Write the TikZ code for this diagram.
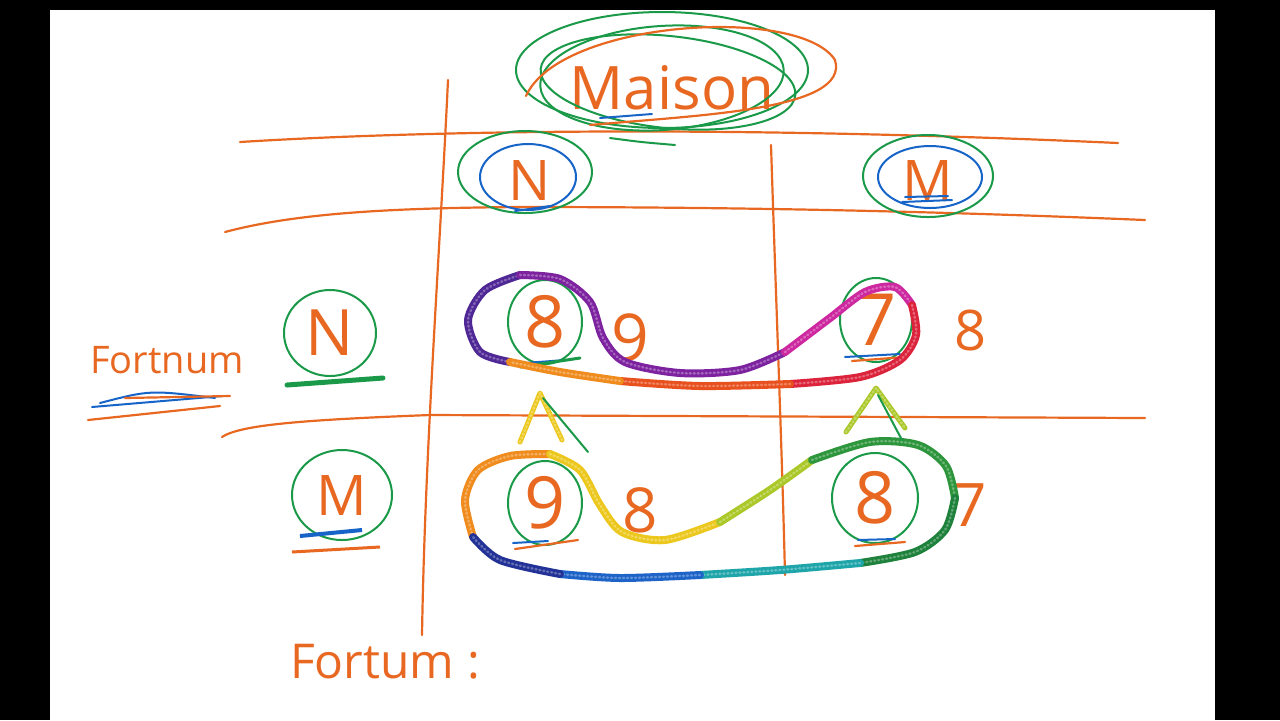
\documentclass[tikz,border=0pt]{standalone}
\usepackage{fontspec}
\setmainfont{Open Sans}
\usepackage{tikz}
\usetikzlibrary{shapes.geometric}
\definecolor{pen}{RGB}{232,104,34}
\definecolor{grn}{RGB}{26,154,72}
\definecolor{blu}{RGB}{22,100,200}
\definecolor{rIndigo}{RGB}{80,40,150}
\definecolor{rPurple}{RGB}{125,35,160}
\definecolor{rMagenta}{RGB}{205,40,160}
\definecolor{rRed}{RGB}{220,35,60}
\definecolor{rOrRed}{RGB}{232,80,30}
\definecolor{rOrange}{RGB}{240,140,30}
\definecolor{rYellow}{RGB}{236,200,30}
\definecolor{rLime}{RGB}{170,200,40}
\definecolor{rGreen}{RGB}{45,150,60}
\definecolor{rDkGreen}{RGB}{30,130,60}
\definecolor{rTeal}{RGB}{30,165,170}
\definecolor{rBlue}{RGB}{30,100,200}
\definecolor{rNavy}{RGB}{35,50,150}

\begin{document}
\begin{tikzpicture}[x=0.5pt, y=-0.5pt,
    ol/.style={draw=pen, line width=1.1pt, line cap=round},
    gl/.style={draw=grn, line width=1pt, line cap=round},
    bl/.style={draw=blu, line width=1pt, line cap=round},
    txt/.style={text=pen, inner sep=0pt, font=\fontsize{#1}{#1}\selectfont},
    cell/.style={txt=36, ellipse, gl, minimum width=37pt, minimum height=42pt},
    glit/.style={draw=#1, line width=4pt, line cap=round, line join=round,
      postaction={draw=white, line width=1.2pt, dash pattern=on 0.5pt off 1.5pt, opacity=0.3}}]
  % board
  \fill[black] (0,0) rectangle (1280,720);
  \fill[white] (50,10) rectangle (1215,720);

  % grid
  \draw[ol] (240,142) .. controls (400,132) and (700,124) .. (1118,143);
  \draw[ol] (225,232) .. controls (300,212) and (400,208) .. (520,207)
            .. controls (800,207) and (1000,214) .. (1145,220);
  \draw[ol] (222,437) .. controls (240,425) and (300,420) .. (430,415) -- (1145,418);
  \draw[ol] (448,80) .. controls (440,250) and (425,450) .. (422,635);
  \draw[ol] (771,145) .. controls (776,300) and (782,450) .. (785,575);

  % Maison
  \node[txt=30] (maison) at (672,88) {Maison};
  \draw[gl] (662,70) ellipse [x radius=146, y radius=58];
  \draw[gl, rotate around={-6:(668,82)}] (668,82) ellipse [x radius=128, y radius=46];
  \draw[gl, rotate around={4:(662,78)}] (662,78) ellipse [x radius=122, y radius=52];
  \draw[gl] (610,138) .. controls (640,142) .. (675,145);
  \draw[ol] (526,96) .. controls (560,20) and (800,5) .. (835,60)
            .. controls (850,110) and (700,115) .. (590,125);
  \draw[bl] (600,118) -- (652,114);

  % column heads
  \node[txt=28] (hN) at (530,180) {N};
  \draw[bl] (528,177) ellipse [x radius=48, y radius=33];
  \draw[gl] (525,172) ellipse [x radius=67, y radius=41];
  \draw[bl] (515,211) -- (550,206);
  \node[txt=28] (hM) at (928,180) {M};
  \draw[bl] (930,177) ellipse [x radius=52, y radius=31];
  \draw[gl] (928,176) ellipse [x radius=65, y radius=41];
  \draw[bl] (905,197) -- (948,196) (902,202) -- (952,200);

  % row heads
  \node[txt=32, ellipse, gl, minimum width=46pt, minimum height=43pt] (rN) at (330,333) {N};
  \draw[grn, line width=2.5pt, line cap=round] (287,385) -- (383,378);
  \node[txt=28, ellipse, gl, minimum width=50pt, minimum height=45pt] (rM) at (342,495) {M};
  \draw[blu, line width=2pt] (300,536) -- (362,530);
  \draw[pen, line width=1.5pt] (292,552) -- (380,547);

  \node[txt=19] (fortnum) at (167,360) {Fortnum};
  \draw[bl] (92,407) -- (222,396);
  \draw[bl] (100,403) .. controls (150,390) .. (215,398);
  \draw[ol] (88,420) -- (220,406);
  \draw[ol] (125,398) -- (230,396);
  \node[txt=24] (fortum) at (385,662) {Fortum :};

  % cells
  \node[cell] (a8) at (545,322) {8};
  \node[txt=33] (a9) at (630,338) {9};
  \node[cell, minimum width=36pt] (b7) at (876,320) {7};
  \node[txt=28] (b8) at (970,330) {8};
  \node[cell] (c9) at (545,503) {9};
  \node[txt=31] (c8) at (640,510) {8};
  \node[cell, minimum width=43pt, minimum height=45pt] (d8) at (875,498) {8};
  \node[txt=30] (d7) at (970,505) {7};
  \draw[bl] (512,364) -- (565,360);
  \draw[gl, line width=1.5pt] (520,367) -- (580,358);
  \draw[bl] (845,357) -- (900,354);
  \draw[ol] (852,361) -- (905,357);
  \draw[bl] (513,543) -- (548,541);
  \draw[ol] (515,549) -- (578,540);
  \draw[bl] (858,540) -- (895,539);
  \draw[ol] (855,546) -- (905,542);

  % top loop
  \draw[glit=rIndigo] plot[smooth] coordinates {(510,362) (480,352) (468,320) (485,290) (520,275)};
  \draw[glit=rPurple] plot[smooth] coordinates {(520,275) (560,279) (590,302) (603,338) (625,362) (680,373) (740,370) (785,352)};
  \draw[glit=rMagenta] plot[smooth] coordinates {(785,352) (830,318) (865,292) (895,287) (912,305)};
  \draw[glit=rRed] plot[smooth] coordinates {(912,305) (916,335) (900,360) (860,377) (790,384)};
  \draw[glit=rOrRed] plot[smooth] coordinates {(790,384) (700,386) (620,381)};
  \draw[glit=rOrange] plot[smooth] coordinates {(620,381) (560,372) (510,362)};

  % bottom loop
  \draw[glit=rOrange] plot[smooth] coordinates {(473,537) (465,500) (478,470) (510,456) (550,454)};
  \draw[glit=rYellow] plot[smooth] coordinates {(550,454) (580,470) (600,505) (622,532) (665,540) (720,522)};
  \draw[glit=rLime] plot[smooth] coordinates {(720,522) (770,490) (812,460)};
  \draw[glit=rGreen] plot[smooth] coordinates {(812,460) (870,442) (918,445) (946,466) (955,498)};
  \draw[glit=rDkGreen] plot[smooth] coordinates {(955,498) (945,530) (915,552) (860,563)};
  \draw[glit=rTeal] plot[smooth] coordinates {(860,563) (780,570) (700,575)};
  \draw[glit=rBlue] plot[smooth] coordinates {(700,575) (620,578) (560,574)};
  \draw[glit=rNavy] plot[smooth] coordinates {(560,574) (500,560) (473,537)};

  % carets
  \draw[glit=rYellow, line width=2.5pt] (520,442) -- (540,393) -- (562,440);
  \draw[gl] (543,398) -- (588,452);
  \draw[glit=rLime, line width=2.5pt] (846,432) -- (876,388) -- (905,428);
  \draw[gl] (878,395) -- (902,440);
\end{tikzpicture}
\end{document}
